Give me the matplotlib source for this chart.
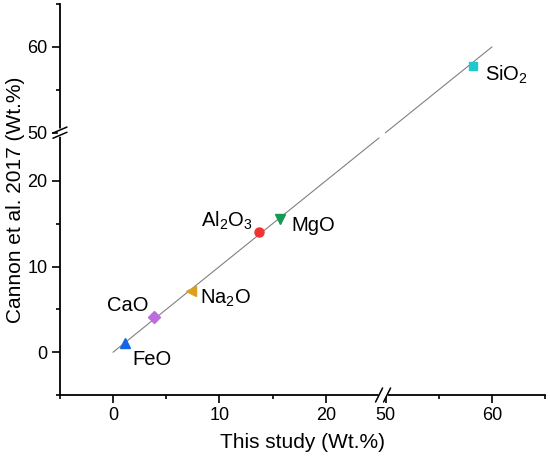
import numpy as np
import matplotlib
matplotlib.use("Agg")
import matplotlib.pyplot as plt
import matplotlib.transforms as mtrans

# oxides: this study vs Cannon et al. 2017 (wt.%)
oxides = ["FeO", "CaO", "Na$_2$O", "Al$_2$O$_3$", "MgO", "SiO$_2$"]
this_study = [1.15, 3.8, 7.3, 13.7, 15.7, 58.2]
cannon_2017 = [1.05, 4.15, 7.15, 14.0, 15.5, 57.8]
markers = ["^", "D", "<", "o", "v", "s"]
colors = ["#1466e6", "#bd6ce0", "#dba01e", "#f23232", "#159a55", "#1ec8cc"]
# label offsets (points) from the marker, text baseline
label_offsets = [(5, -16), (-33.6, 4), (6.5, -9.5), (-41.7, 4), (8, -8), (8.6, -11)]

# 1:1 line pieces on either side of the axis break
line_lo = [0, 25]
line_hi = [50, 60]

# broken-axis mapping: 25..50 is squeezed to almost nothing
BRK_LO, BRK_HI, SQ = 25.0, 50.0, 0.025
SHIFT = (BRK_HI - BRK_LO) * (1 - SQ)


def fwd(v):
    v = np.asarray(v, dtype=float)
    return np.where(v <= BRK_LO, v,
                    np.where(v >= BRK_HI, v - SHIFT, BRK_LO + (v - BRK_LO) * SQ))


def inv(u):
    u = np.asarray(u, dtype=float)
    top = BRK_LO + (BRK_HI - BRK_LO) * SQ
    return np.where(u <= BRK_LO, u,
                    np.where(u >= top, u + SHIFT, BRK_LO + (u - BRK_LO) / SQ))


plt.rcParams['font.family'] = ['Liberation Sans', 'DejaVu Sans']
plt.rcParams['mathtext.fontset'] = 'custom'
plt.rcParams['mathtext.rm'] = 'Liberation Sans'
plt.rcParams['mathtext.it'] = 'Liberation Sans'
plt.rcParams['mathtext.default'] = 'regular'

fig = plt.figure(figsize=(5.5, 4.62), dpi=100)
ax = fig.add_axes([0.109, 0.145, 0.882, 0.846])
ax.set_xscale('function', functions=(fwd, inv))
ax.set_yscale('function', functions=(fwd, inv))

ax.plot(line_lo, line_lo, color='#808080', lw=0.8, zorder=1)
ax.plot(line_hi, line_hi, color='#808080', lw=0.8, zorder=1)

msizes = {"^": 7.5, "v": 7.5, "<": 7.5, "D": 5.8, "o": 6.5, "s": 6.0}
for name, xv, yv, m, c, off in zip(oxides, this_study, cannon_2017,
                                   markers, colors, label_offsets):
    ax.plot([xv], [yv], marker=m, color=c, ms=msizes[m], ls='none', zorder=3)
    ax.annotate(name, (xv, yv), xytext=off, textcoords='offset points',
                fontsize=14.5, va='baseline', ha='left')

ax.set_xlim(-5, 65)
ax.set_ylim(-5, 65)
ax.set_xticks([0, 10, 20, 50, 60])
ax.set_yticks([0, 10, 20, 50, 60])
ax.set_xticks([-5, 5, 15, 55, 65], minor=True)
ax.set_yticks([-5, 5, 15, 55, 65], minor=True)
ax.set_xticklabels(["0", "10", "20", "50", "60"])
ax.set_yticklabels(["0", "10", "20", "50", "60"])
ax.tick_params(which='major', direction='out', length=5.8, width=1.2, labelsize=13, pad=3)
ax.tick_params(which='minor', direction='out', length=3, width=1.2)

for s in ('top', 'right'):
    ax.spines[s].set_visible(False)
for s in ('left', 'bottom'):
    ax.spines[s].set_linewidth(1.3)

ax.set_xlabel("This study (Wt.%)", fontsize=15, labelpad=6)
ax.set_ylabel("Cannon et al. 2017 (Wt.%)", fontsize=15, labelpad=1.5)


# break marks on both axes, drawn in pixel offsets around the value 50
def px(dx, dy):
    return mtrans.ScaledTranslation(dx / 100, dy / 100, fig.dpi_scale_trans)


def seg(tr, x, y, p0, p1, color='black', lw=1.1):
    ax.annotate("", xy=(x, y), xycoords=tr + px(*p1),
                xytext=(x, y), textcoords=tr + px(*p0),
                arrowprops=dict(arrowstyle='-', lw=lw, color=color,
                                shrinkA=0, shrinkB=0),
                annotation_clip=False, zorder=6)


ytr = mtrans.blended_transform_factory(ax.transAxes, ax.transData)
xtr = mtrans.blended_transform_factory(ax.transData, ax.transAxes)

# y axis: white gap in the spine, then two slashes
seg(ytr, 0, 50, (0, -2.2), (0, 2.2), color='white', lw=3)
for oy in (-2.6, 2.6):
    seg(ytr, 0, 50, (-7, oy - 3), (7, oy + 3))

# x axis
seg(xtr, 50, 0, (-5, 0), (0.5, 0), color='white', lw=3)
for ox in (-6.5, 1.5):
    seg(xtr, 50, 0, (ox - 3.5, -7), (ox + 3.5, 7))

fig.savefig("out.png", dpi=100)
